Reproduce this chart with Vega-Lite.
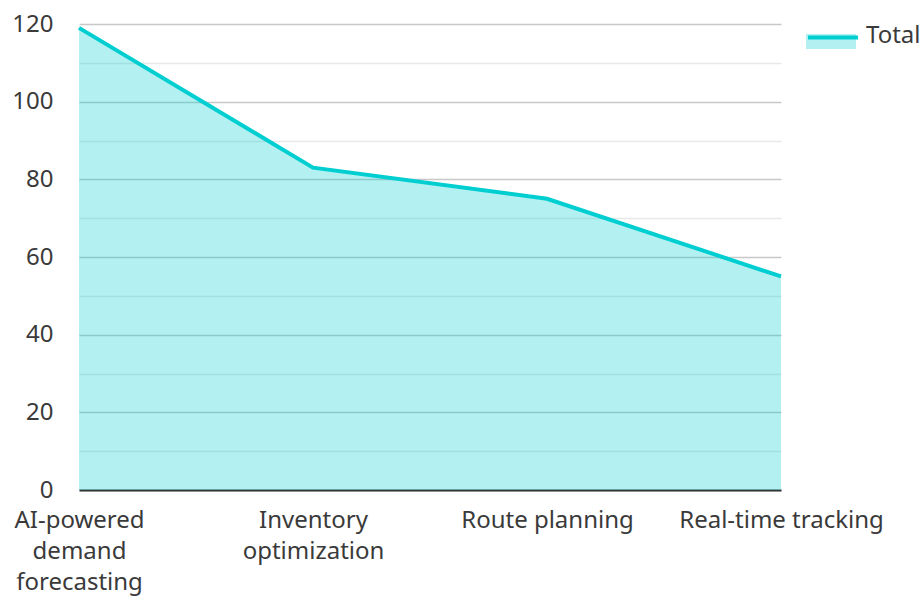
{
  "$schema": "https://vega.github.io/schema/vega-lite/v6.json",
  "width": 702,
  "height": 466,
  "autosize": "none",
  "padding": {"left": 79, "top": 24, "right": 141, "bottom": 107},
  "background": "white",
  "config": {
    "view": {"stroke": null},
    "font": "Noto Sans",
    "axis": {"labelFont": "Noto Sans", "labelFontSize": 24, "labelColor": "#3a3a3a", "titleFont": "Noto Sans"},
    "legend": {"labelFont": "Noto Sans", "labelFontSize": 24, "labelColor": "#3a3a3a", "padding": 0}
  },
  "data": {
    "values": [
      {"category": "AI-powered demand forecasting", "value": 119, "series": "Total"},
      {"category": "Inventory optimization", "value": 83, "series": "Total"},
      {"category": "Route planning", "value": 75, "series": "Total"},
      {"category": "Real-time tracking", "value": 55, "series": "Total"}
    ]
  },
  "encoding": {
    "x": {
      "field": "category",
      "type": "nominal",
      "sort": null,
      "scale": {"type": "point", "padding": 0},
      "axis": {
        "title": null,
        "labelAngle": 0,
        "ticks": false,
        "domainColor": "#333333",
        "domainWidth": 2,
        "grid": false,
        "labelPadding": 18,
        "labelLineHeight": 31,
        "labelBaseline": "top",
        "labelOverlap": false,
        "labelFlush": false,
        "labelBound": false,
        "labelLimit": 0,
        "labelExpr": "datum.value == 'AI-powered demand forecasting' ? ['AI-powered','demand','forecasting'] : datum.value == 'Inventory optimization' ? ['Inventory','optimization'] : datum.label"
      }
    },
    "y": {
      "field": "value",
      "type": "quantitative",
      "scale": {"domain": [0, 120], "nice": false},
      "axis": {
        "title": null,
        "values": [0, 10, 20, 30, 40, 50, 60, 70, 80, 90, 100, 110, 120],
        "labelExpr": "datum.value % 20 == 0 ? datum.label : ''",
        "domain": false,
        "ticks": false,
        "labelPadding": 26,
        "grid": true,
        "gridWidth": 1.5,
        "gridColor": {"condition": {"test": "datum.value % 20 == 0", "value": "#c8c8c8"}, "value": "#e8e8e8"}
      }
    }
  },
  "layer": [
    {
      "mark": {"type": "area", "fillOpacity": 0.3},
      "encoding": {
        "fill": {
          "field": "series",
          "type": "nominal",
          "scale": {"range": ["#00CED1"]},
          "legend": {
            "title": null,
            "orient": "none",
            "legendX": 727,
            "legendY": -13,
            "symbolType": "M-1,-0.08H1V0.52H-1Z",
            "symbolSize": 2500,
            "symbolOpacity": 0.3,
            "symbolStrokeWidth": 0,
            "labelOffset": 10,
            "labelLimit": 0
          }
        }
      }
    },
    {
      "mark": {"type": "line", "strokeWidth": 4},
      "encoding": {
        "stroke": {
          "field": "series",
          "type": "nominal",
          "scale": {"range": ["#00CED1"]},
          "legend": {
            "title": null,
            "orient": "none",
            "legendX": 727,
            "legendY": -13,
            "symbolType": "M-1,-0.02H1",
            "symbolSize": 2500,
            "symbolStrokeWidth": 4,
            "labelExpr": "''",
            "labelOffset": 10
          }
        }
      }
    }
  ]
}
